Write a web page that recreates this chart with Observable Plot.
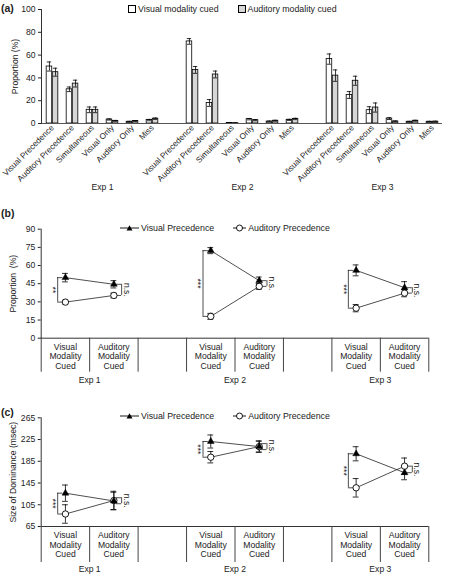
<!DOCTYPE html>
<html><head><meta charset="utf-8">
<script src="https://cdn.jsdelivr.net/npm/d3@7"></script>
<script src="https://cdn.jsdelivr.net/npm/@observablehq/plot@0.6"></script>
<style>
body{margin:0;background:#fff;font-family:"Liberation Sans",Arial,sans-serif;color:#222;}
#wrap{position:relative;width:474px;height:579px;overflow:hidden;}
.panel{position:absolute;left:0;}
.plabel{position:absolute;left:1px;font-weight:bold;font-size:10.5px;}
.legend{position:absolute;font-size:8.8px;display:flex;align-items:center;white-space:nowrap;line-height:1;}
.legend svg{display:block;margin-right:2px;}
.sq{display:inline-block;width:6px;height:6px;border:1px solid #000;margin-right:2px;}
</style></head><body><div id="wrap"></div>
<script>
// ---------- data ----------
const exps = ["Exp 1", "Exp 2", "Exp 3"];
const categories = ["Visual Precedence", "Auditory Precedence", "Simultaneous", "Visual Only", "Auditory Only", "Miss"];
const cueConditions = ["Visual\nModality\nCued", "Auditory\nModality\nCued"];

// panel (a): proportion (%) per experiment, per category
const visualCued    = [[50, 30, 12, 3.5, 1.5, 3], [72, 18, 0.5, 3.8, 1.7, 3.2], [56.5, 25, 11.7, 4.3, 1.5, 1.5]];
const visualCuedErr = [[4, 2, 2.5, 0.5, 0.4, 0.6], [2.5, 3, 0.3, 0.6, 0.4, 0.5], [4.5, 3, 3, 0.8, 0.4, 0.4]];
const auditoryCued    = [[45, 35, 12, 2.3, 2.2, 4.2], [47, 43, 0.3, 2.9, 2.4, 4], [42, 37.5, 14, 1.8, 2.4, 1.6]];
const auditoryCuedErr = [[3.5, 3, 2.5, 0.4, 0.4, 0.6], [3, 3, 0.2, 0.5, 0.4, 0.6], [5, 4, 4, 0.4, 0.4, 0.4]];

// panel (b): proportion (%) [exp][VMC, AMC]
const propVisualPrec    = [[50, 44.5], [72.3, 47.5], [56, 41.7]];
const propVisualPrecErr = [[3.5, 3], [2.5, 3], [4.5, 5]];
const propAudPrec       = [[29.8, 35.3], [18, 42.8], [24.8, 37.2]];
const propAudPrecErr    = [[1.5, 2], [2.5, 2.5], [3, 3]];
const propSig = [["**", "n.s."], ["***", "n.s."], ["***", "n.s."]];

// panel (c): size of dominance (msec) [exp][VMC, AMC]
const domVisualPrec    = [[126.3, 112], [221.4, 212], [198.8, 164]];
const domVisualPrecErr = [[15, 16], [12, 10], [13, 13]];
const domAudPrec       = [[88, 112.8], [192.5, 212], [136.2, 176]];
const domAudPrecErr    = [[17, 17], [10.5, 10.5], [17, 15]];
const domSig = [["***", "n.s."], ["***", "n.s."], ["***", "n.s."]];

// ---------- layout ----------
const FONT = "Liberation Sans, Arial, sans-serif";
const FS = 8.6;
const INK = "#222";
const wrap = document.getElementById("wrap");
function place(el, top) { el.classList.add("panel"); el.style.top = top + "px"; wrap.appendChild(el); }
function label(txt, top) { const d = document.createElement("div"); d.className = "plabel"; d.style.top = top + "px"; d.textContent = txt; wrap.appendChild(d); }

// ---------- panel (a) ----------
const slotKeys = [];
exps.forEach((e, i) => { categories.forEach(c => slotKeys.push(e + "|" + c)); if (i < exps.length - 1) slotKeys.push("gap" + i); });
const visRows = [], audRows = [];
exps.forEach((e, i) => categories.forEach((c, j) => {
  visRows.push({key: e + "|" + c, v: visualCued[i][j], err: visualCuedErr[i][j]});
  audRows.push({key: e + "|" + c, v: auditoryCued[i][j], err: auditoryCuedErr[i][j]});
}));
const bw = (474 - 41 - 32) / slotKeys.length;
const barW = 5.6, barGap = 0.5;
const visInL = bw / 2 - barGap / 2 - barW, visInR = bw / 2 + barGap / 2;
const audInL = bw / 2 + barGap / 2, audInR = bw / 2 - barGap / 2 - barW;
const visDx = -(barGap / 2 + barW / 2), audDx = barGap / 2 + barW / 2;
const capW = 4.4;
function errMarks(rows, dx) {
  return [
    Plot.ruleX(rows, {x: "key", y1: d => d.v - d.err, y2: d => d.v + d.err, dx, stroke: "#000", strokeWidth: 0.8}),
    Plot.tickY(rows, {x: "key", y: d => d.v + d.err, insetLeft: bw / 2 + dx - capW / 2, insetRight: bw / 2 - dx - capW / 2, stroke: "#000", strokeWidth: 0.8}),
    Plot.tickY(rows, {x: "key", y: d => Math.max(0, d.v - d.err), insetLeft: bw / 2 + dx - capW / 2, insetRight: bw / 2 - dx - capW / 2, stroke: "#000", strokeWidth: 0.8})
  ];
}
const expLabelA = exps.map(e => ({key: e + "|Simultaneous", text: e}));
const plotA = Plot.plot({
  width: 474, height: 200, marginTop: 9, marginBottom: 77, marginLeft: 41, marginRight: 32,
  style: {fontFamily: FONT, fontSize: FS + "px", color: INK, background: "transparent", overflow: "visible"},
  x: {domain: slotKeys, padding: 0, axis: null},
  y: {domain: [0, 100], axis: null},
  marks: [
    Plot.barY(visRows, {x: "key", y: "v", fill: "#fff", stroke: "#000", strokeWidth: 0.8, insetLeft: visInL, insetRight: visInR}),
    Plot.barY(audRows, {x: "key", y: "v", fill: "#d6d6d6", stroke: "#000", strokeWidth: 0.8, insetLeft: audInL, insetRight: audInR}),
    ...errMarks(visRows, visDx),
    ...errMarks(audRows, audDx),
    Plot.ruleY([0], {stroke: "#555", strokeWidth: 1}),
    Plot.axisY({ticks: [0, 20, 40, 60, 80, 100], tickSize: 3, tickPadding: 3, fontSize: FS, label: "Proportion (%)", labelAnchor: "center", labelArrow: "none", labelOffset: 30}),
    Plot.frame({anchor: "left", stroke: "#333"}),
    Plot.axisX({tickRotate: -45, tickSize: 0, tickPadding: 3, fontSize: 8.2, label: null, tickFormat: k => k.startsWith("gap") ? "" : k.split("|")[1]}),
    Plot.text(expLabelA, {x: "key", text: "text", frameAnchor: "bottom", dy: 66, dx: bw / 2, fontSize: FS, fill: INK})
  ]
});
place(plotA, 0);
label("(a)", 2);
{
  const lg = document.createElement("div"); lg.className = "legend"; lg.style.left = "128px"; lg.style.top = "5px";
  lg.innerHTML = '<span class="sq" style="background:#fff"></span><span>Visual modality cued</span><span style="width:19px"></span><span class="sq" style="background:#d6d6d6"></span><span>Auditory modality cued</span>';
  wrap.appendChild(lg);
}

// ---------- panels (b) and (c) ----------
const nSlots = exps.length * 3 - 1;
function posOf(i, j) { return i * 3 + j + 0.5; }
function rowsFor(vals, errs) {
  const r = [];
  exps.forEach((e, i) => cueConditions.forEach((c, j) => r.push({exp: e, pos: posOf(i, j), v: vals[i][j], err: errs[i][j]})));
  return r;
}
const capHalf = 0.06, brOut = 0.16, brIn = 0.05;
function linePanel({vp, vpErr, ap, apErr, sig, yDomain, yTicks, yLabel, height, marginTop, marginBottom, boxDepth, expDy, minSpan}) {
  const vpRows = rowsFor(vp, vpErr), apRows = rowsFor(ap, apErr);
  const catRows = [];
  exps.forEach((e, i) => cueConditions.forEach((c, j) => catRows.push({pos: posOf(i, j), text: c})));
  const expRows = exps.map((e, i) => ({pos: i * 3 + 1, text: e}));
  const brackets = [];
  exps.forEach((e, i) => [0, 1].forEach(j => {
    let a = vp[i][j], b = ap[i][j];
    let lo = Math.min(a, b), hi = Math.max(a, b);
    if (hi - lo < minSpan) { const m = (hi + lo) / 2; lo = m - minSpan / 2; hi = m + minSpan / 2; }
    const side = j === 0 ? -1 : 1;
    brackets.push({pos: posOf(i, j), lo, hi, side, text: sig[i][j]});
  }));
  const ends = brackets.flatMap(b => [{...b, y: b.lo}, {...b, y: b.hi}]);
  const err = rows => [
    Plot.ruleX(rows, {x: "pos", y1: d => d.v - d.err, y2: d => d.v + d.err, stroke: "#000", strokeWidth: 0.8}),
    Plot.ruleY(rows, {y: d => d.v + d.err, x1: d => d.pos - capHalf, x2: d => d.pos + capHalf, stroke: "#000", strokeWidth: 0.8}),
    Plot.ruleY(rows, {y: d => d.v - d.err, x1: d => d.pos - capHalf, x2: d => d.pos + capHalf, stroke: "#000", strokeWidth: 0.8})
  ];
  return Plot.plot({
    width: 474, height, marginTop, marginBottom, marginLeft: 40.7, marginRight: 45.7,
    style: {fontFamily: FONT, fontSize: FS + "px", color: INK, background: "transparent", overflow: "visible"},
    x: {domain: [0, nSlots], axis: null},
    y: {domain: yDomain, axis: null},
    marks: [
      Plot.axisY({ticks: yTicks, tickSize: 3, tickPadding: 3, fontSize: FS, label: yLabel, labelAnchor: "center", labelArrow: "none", labelOffset: 31}),
      Plot.frame({anchor: "left", stroke: "#333"}),
      Plot.ruleY([yDomain[0]], {stroke: "#333"}),
      Plot.axisX({ticks: d3.range(nSlots + 1), tickSize: boxDepth, tickFormat: () => "", label: null, stroke: "#444"}),
      Plot.text(catRows, {x: "pos", text: "text", frameAnchor: "bottom", lineAnchor: "top", dy: 5, lineHeight: 1.1, fontSize: FS, fill: INK}),
      Plot.text(expRows, {x: "pos", text: "text", frameAnchor: "bottom", dy: expDy, fontSize: FS, fill: INK}),
      // significance brackets
      Plot.ruleX(brackets, {x: d => d.pos + d.side * brOut, y1: "lo", y2: "hi", stroke: "#222", strokeWidth: 0.8}),
      Plot.ruleY(ends, {y: "y", x1: d => d.pos + d.side * brOut, x2: d => d.pos + d.side * brIn, stroke: "#222", strokeWidth: 0.8}),
      Plot.text(brackets, {x: d => d.pos + d.side * 0.26, y: d => (d.lo + d.hi) / 2, text: "text", rotate: 90, fontSize: FS, fill: INK}),
      // lines
      Plot.line(vpRows, {x: "pos", y: "v", z: "exp", stroke: "#222", strokeWidth: 0.8}),
      Plot.line(apRows, {x: "pos", y: "v", z: "exp", stroke: "#222", strokeWidth: 0.8}),
      ...err(vpRows),
      ...err(apRows),
      Plot.dot(apRows, {x: "pos", y: "v", symbol: "circle", r: 3.2, fill: "#fff", stroke: "#000", strokeWidth: 0.9}),
      Plot.dot(vpRows, {x: "pos", y: "v", symbol: "triangle", r: 2.5, fill: "#000", stroke: "#000", strokeWidth: 0.5})
    ]
  });
}
function lineLegend(top) {
  const lg = document.createElement("div"); lg.className = "legend"; lg.style.left = "120px"; lg.style.top = top + "px";
  lg.innerHTML =
    '<svg width="19" height="8"><line x1="0" y1="4" x2="19" y2="4" stroke="#000" stroke-width="0.9"/><path d="M9.5,1.2 L12.5,6.6 L6.5,6.6 Z" fill="#000"/></svg><span>Visual Precedence</span><span style="width:19px"></span>' +
    '<svg width="13" height="8"><line x1="0" y1="4" x2="13" y2="4" stroke="#000" stroke-width="0.9"/><circle cx="6.5" cy="4" r="3" fill="#fff" stroke="#000" stroke-width="0.9"/></svg><span>Auditory Precedence</span>';
  wrap.appendChild(lg);
}

const plotB = linePanel({vp: propVisualPrec, vpErr: propVisualPrecErr, ap: propAudPrec, apErr: propAudPrecErr, sig: propSig,
  yDomain: [0, 90], yTicks: [0, 15, 30, 45, 60, 75, 90], yLabel: "Proportion  (%)",
  height: 190, marginTop: 28.7, marginBottom: 52.3, boxDepth: 34, expDy: 45, minSpan: 4});
place(plotB, 200);
label("(b)", 207);
lineLegend(224);

const plotC = linePanel({vp: domVisualPrec, vpErr: domVisualPrecErr, ap: domAudPrec, apErr: domAudPrecErr, sig: domSig,
  yDomain: [65, 265], yTicks: [65, 105, 145, 185, 225, 265], yLabel: "Size of Dominance (msec)",
  height: 189, marginTop: 27.3, marginBottom: 53, boxDepth: 36, expDy: 45.7, minSpan: 11});
place(plotC, 390);
label("(c)", 406);
lineLegend(411.5);
</script>
</body></html>
